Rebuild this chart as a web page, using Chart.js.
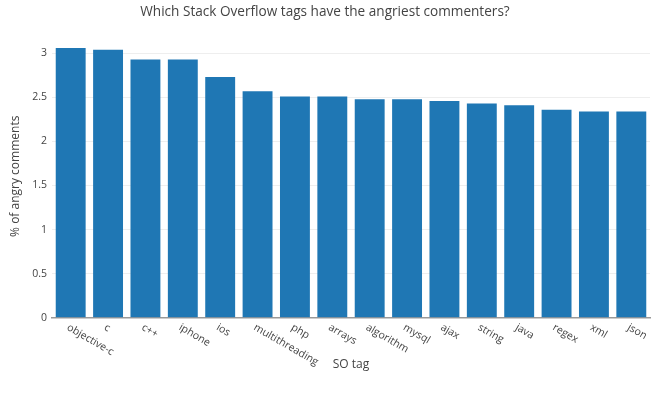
<!DOCTYPE html>
<html>
<head>
<meta charset="utf-8">
<script src="https://cdn.jsdelivr.net/npm/chart.js@4/dist/chart.umd.min.js"></script>
<style>
    html, body { margin: 0; padding: 0; background: #fff; }
    #wrap { width: 667px; height: 400px; }
</style>
</head>
<body>
<div id="wrap"><canvas id="chart" width="667" height="400"></canvas></div>
<script>
const tags = [
    "objective-c", "c", "c++", "iphone", "ios", "multithreading", "php", "arrays",
    "algorithm", "mysql", "ajax", "string", "java", "regex", "xml", "json"
];
const angryPercent = [
    3.06, 3.04, 2.93, 2.93, 2.73, 2.57, 2.51, 2.51,
    2.48, 2.48, 2.46, 2.43, 2.41, 2.36, 2.34, 2.34
];
const yTickValues = [0, 0.5, 1, 1.5, 2, 2.5, 3];

const FONT = "'Open Sans', 'DejaVu Sans', sans-serif";
const TEXT_COLOR = "#444";

// plotly-style tick labels: rotated clockwise, text starting at the tick
const slantedLabels = {
    id: "slantedLabels",
    afterDraw(chart) {
        const ctx = chart.ctx;
        const xScale = chart.scales.x;
        ctx.save();
        ctx.font = `10.5px ${FONT}`;
        ctx.fillStyle = TEXT_COLOR;
        ctx.textAlign = "left";
        ctx.textBaseline = "middle";
        tags.forEach((tag, i) => {
            const x = xScale.getPixelForValue(i);
            ctx.save();
            ctx.translate(x - 3, xScale.top + 9);
            ctx.rotate(Math.PI / 6);
            ctx.fillText(tag, 0, 0);
            ctx.restore();
        });
        ctx.restore();
    }
};

new Chart(document.getElementById("chart").getContext("2d"), {
    type: "bar",
    data: {
        labels: tags,
        datasets: [{
            label: "% of angry comments",
            data: angryPercent,
            backgroundColor: "#1f77b4",
            borderWidth: 0,
            barPercentage: 0.8,
            categoryPercentage: 1.0
        }]
    },
    options: {
        responsive: false,
        animation: false,
        devicePixelRatio: 1,
        layout: {
            padding: { left: 0, right: 17, top: 0, bottom: 0 }
        },
        plugins: {
            legend: { display: false },
            tooltip: { enabled: false },
            title: {
                display: true,
                text: "Which Stack Overflow tags have the angriest commenters?",
                color: TEXT_COLOR,
                font: { family: FONT, size: 13.6, weight: "normal" },
                padding: { top: 4, bottom: 14.5 }
            }
        },
        scales: {
            x: {
                grid: { display: false },
                border: { display: true, color: "#999", width: 1.5 },
                ticks: { display: false },
                title: {
                    display: true,
                    text: "SO tag",
                    color: TEXT_COLOR,
                    font: { family: FONT, size: 12 },
                    padding: { top: 0, bottom: 28 }
                },
                afterFit: (scale) => { scale.height = 82.3; }
            },
            y: {
                min: 0,
                max: 3.21,
                afterBuildTicks: (scale) => {
                    scale.ticks = yTickValues.map((v) => ({ value: v }));
                },
                afterFit: (scale) => { scale.width = 52; },
                grid: { color: "#eee", drawTicks: false },
                border: { display: false },
                ticks: {
                    color: TEXT_COLOR,
                    font: { family: FONT, size: 10.5 },
                    padding: 5,
                    callback: (value) => String(value)
                },
                title: {
                    display: true,
                    text: "% of angry comments",
                    color: TEXT_COLOR,
                    font: { family: FONT, size: 12 },
                    padding: { top: 8, bottom: 0 }
                }
            }
        }
    },
    plugins: [slantedLabels]
});
</script>
</body>
</html>
